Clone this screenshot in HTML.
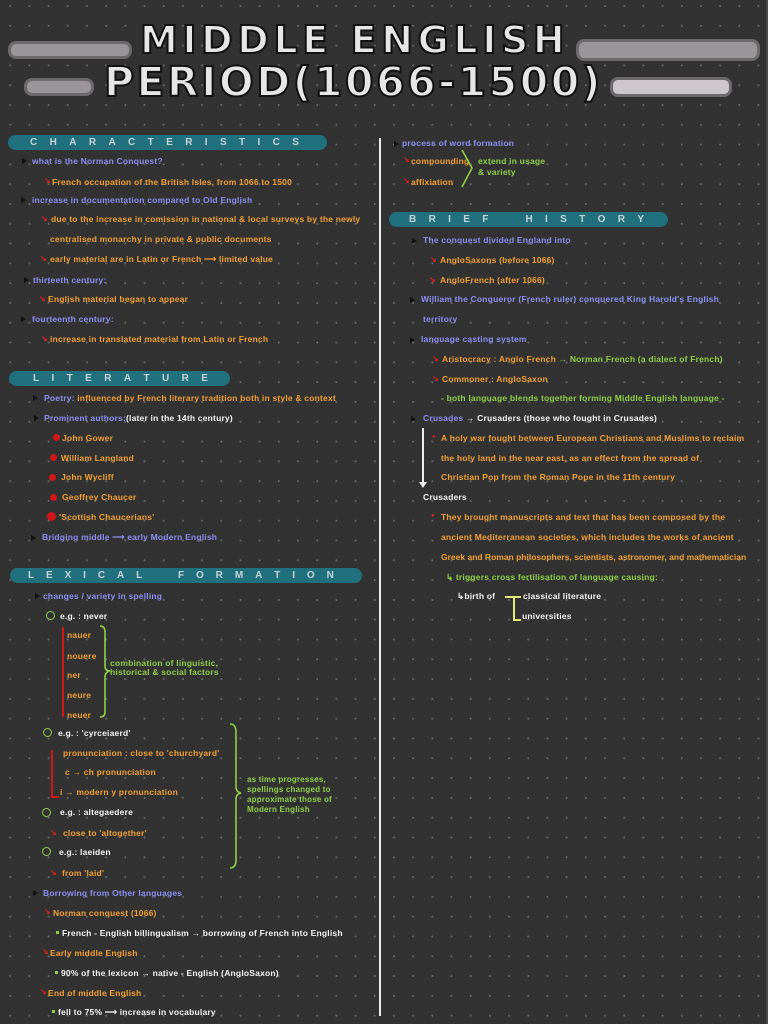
<!DOCTYPE html>
<html><head><meta charset="utf-8"><style>
html,body{margin:0;padding:0}
body{width:768px;height:1024px;position:relative;overflow:hidden;background-color:#323232;
background-image:radial-gradient(circle,#6a6a6a 0.8px,transparent 1.2px);background-size:19.2px 19.8px;background-position:0.6px -3.9px;
font-family:"Liberation Sans",sans-serif;}
.t{position:absolute;font-size:8.5px;font-weight:bold;white-space:nowrap;line-height:10px;letter-spacing:0.2px}
.b{color:#8c8ff2}.o{color:#f2a033}.g{color:#8fd046}.w{color:#f4f4f4}.y{color:#e6e87a}
.bar{position:absolute;height:15px;background:#21707e;border-radius:8px;color:#c7d3d6;font-size:10px;font-weight:bold;line-height:15px;white-space:nowrap;display:flex;justify-content:space-between;box-sizing:border-box}
.pill{position:absolute;background:#9a9599;border:3px solid #6c696b;border-radius:8px;box-sizing:border-box}
.title{position:absolute;font-family:"DejaVu Sans",sans-serif;font-weight:bold;color:#e6e6e6;-webkit-text-stroke:2px #111;font-size:38px;white-space:nowrap;line-height:40px}
.tri{position:absolute;width:0;height:0;border-left:5px solid #111;border-top:3px solid transparent;border-bottom:3px solid transparent}
.rd{position:absolute;color:#e02020;font-size:8px;font-weight:bold}
.rc{position:absolute;width:7px;height:7px;border-radius:50%;background:#d01818}
.gc{position:absolute;width:7px;height:7px;border-radius:50%;border:1.5px solid #8fd046}
.dot{position:absolute;width:3px;height:3px;background:#8fd046}
</style></head><body>
<div style="position:absolute;right:0;top:0;width:2px;height:1024px;background:#4a4a4a"></div>
<!-- title -->
<div class="pill" style="left:8px;top:41px;width:124px;height:18px"></div>
<div class="pill" style="left:576px;top:39px;width:184px;height:22px"></div>
<div class="pill" style="left:24px;top:78px;width:70px;height:18px"></div>
<div class="pill" style="left:610px;top:77px;width:122px;height:20px;background:#cdc6ca"></div>
<div class="title" style="left:140px;top:20px;letter-spacing:4.6px">MIDDLE ENGLISH</div>
<div class="title" style="left:104px;top:62px;font-size:41px;letter-spacing:2.5px">PERIOD(1066-1500)</div>
<!-- divider -->
<div style="position:absolute;left:379px;top:138px;width:2px;height:878px;background:#eee"></div>

<!-- CHARACTERISTICS -->
<div class="bar" style="left:8px;top:135px;width:319px;padding:0 28px 0 22px"><span>C</span><span>H</span><span>A</span><span>R</span><span>A</span><span>C</span><span>T</span><span>E</span><span>R</span><span>I</span><span>S</span><span>T</span><span>I</span><span>C</span><span>S</span></div>
<div class="tri" style="left:22px;top:158px"></div><div class="t b" style="left:32px;top:156px">what is the Norman Conquest?</div>
<div class="rd" style="left:44px;top:176px">↘</div><div class="t o" style="left:52px;top:177px">French occupation of the British Isles, from 1066 to 1500</div>
<div class="tri" style="left:21px;top:197px"></div><div class="t b" style="left:32px;top:195px">increase in documentation compared to Old English</div>
<div class="rd" style="left:41px;top:214px">↘</div><div class="t o" style="left:51px;top:214px">due to the increase in comission in national &amp; local surveys by the newly</div>
<div class="t o" style="left:50px;top:234px">centralised monarchy in private &amp; public documents</div>
<div class="rd" style="left:40px;top:254px">↘</div><div class="t o" style="left:50px;top:254px">early material are in Latin or French ⟶ limited value</div>
<div class="tri" style="left:24px;top:277px"></div><div class="t b" style="left:33px;top:275px">thirteeth century:</div>
<div class="rd" style="left:39px;top:294px">↘</div><div class="t o" style="left:48px;top:294px">English material began to appear</div>
<div class="tri" style="left:21px;top:316px"></div><div class="t b" style="left:32px;top:314px">fourteenth century:</div>
<div class="rd" style="left:41px;top:334px">↘</div><div class="t o" style="left:50px;top:334px">increase in translated material from Latin or French</div>

<!-- LITERATURE -->
<div class="bar" style="left:9px;top:371px;width:221px;padding:0 22px 0 24px"><span>L</span><span>I</span><span>T</span><span>E</span><span>R</span><span>A</span><span>T</span><span>U</span><span>R</span><span>E</span></div>
<div class="tri" style="left:33px;top:395px"></div><div class="t" style="left:44px;top:393px"><span class="b">Poetry:</span> <span class="o">influenced by French literary tradition both in style &amp; context</span></div>
<div class="tri" style="left:34px;top:415px"></div><div class="t" style="left:44px;top:413px"><span class="b">Prominent authors:</span><span class="w">(later in the 14th century)</span></div>
<div class="rc" style="left:53px;top:434px"></div><div class="t o" style="left:62px;top:433px">John Gower</div>
<div class="rc" style="left:50px;top:454px"></div><div class="t o" style="left:61px;top:453px">William Langland</div>
<div class="rc" style="left:49px;top:474px"></div><div class="t o" style="left:61px;top:472px">John Wycliff</div>
<div class="rc" style="left:50px;top:494px"></div><div class="t o" style="left:62px;top:492px">Geoffrey Chaucer</div>
<div class="rc" style="left:47px;top:512px;width:9px;height:9px"></div><div class="t o" style="left:59px;top:512px">'Scottish Chaucerians'</div>
<div class="tri" style="left:31px;top:535px"></div><div class="t b" style="left:42px;top:532px">Bridging middle ⟶ early Modern English</div>

<!-- LEXICAL FORMATION -->
<div class="bar" style="left:10px;top:568px;width:352px;padding:0 28px 0 18px"><span>L</span><span>E</span><span>X</span><span>I</span><span>C</span><span>A</span><span>L</span><span></span><span></span><span>F</span><span>O</span><span>R</span><span>M</span><span>A</span><span>T</span><span>I</span><span>O</span><span>N</span></div>
<div class="tri" style="left:35px;top:593px"></div><div class="t b" style="left:43px;top:591px">changes / variety in spelling</div>
<div class="gc" style="left:46px;top:611px"></div><div class="t w" style="left:60px;top:611px">e.g. : never</div>
<div style="position:absolute;left:62px;top:627px;width:2px;height:90px;background:#d01818"></div>
<div class="t o" style="left:67px;top:630px">nauer</div>
<div class="t o" style="left:67px;top:651px">nouere</div>
<div class="t o" style="left:67px;top:670px">ner</div>
<div class="t o" style="left:67px;top:690px">neure</div>
<div class="t o" style="left:67px;top:710px">neuer</div>
<svg style="position:absolute;left:98px;top:624px" width="14" height="96"><path d="M2 2 Q7 2 7 8 L7 42 Q7 47 12 47 Q7 48 7 53 L7 88 Q7 93 2 93" fill="none" stroke="#8fd046" stroke-width="1.6"/></svg>
<div class="t g" style="left:110px;top:659px;line-height:9px">combination of linguistic,<br>historical &amp; social factors</div>

<div class="gc" style="left:43px;top:728px"></div><div class="t w" style="left:58px;top:728px">e.g. : 'cyrceiaerd'</div>
<div style="position:absolute;left:51px;top:750px;width:2px;height:48px;background:#d01818"></div>
<div style="position:absolute;left:51px;top:796px;width:8px;height:2px;background:#d01818"></div>
<div class="t o" style="left:63px;top:748px">pronunciation : close to 'churchyard'</div>
<div class="t o" style="left:65px;top:767px">c → ch pronunciation</div>
<div class="t o" style="left:60px;top:787px">i → modern y pronunciation</div>
<svg style="position:absolute;left:228px;top:722px" width="16" height="150"><path d="M2 2 Q8 2 8 10 L8 65 Q8 70 13 71 Q8 72 8 77 L8 138 Q8 146 2 146" fill="none" stroke="#8fd046" stroke-width="1.6"/></svg>
<div class="t g" style="left:247px;top:775px;line-height:10px;font-size:8px">as time progresses,<br>spellings changed to<br>approximate those of<br>Modern English</div>
<div class="gc" style="left:42px;top:808px"></div><div class="t w" style="left:60px;top:807px">e.g. : altegaedere</div>
<div class="rd" style="left:50px;top:828px">↘</div><div class="t o" style="left:63px;top:828px">close to 'altogether'</div>
<div class="gc" style="left:42px;top:847px"></div><div class="t w" style="left:59px;top:847px">e.g.: laeiden</div>
<div class="rd" style="left:50px;top:868px">↘</div><div class="t o" style="left:62px;top:868px">from 'laid'</div>
<div class="tri" style="left:33px;top:890px"></div><div class="t b" style="left:43px;top:888px">Borrowing from Other languages</div>
<div class="rd" style="left:44px;top:907px">↘</div><div class="t o" style="left:53px;top:908px">Norman conquest (1066)</div>
<div class="dot" style="left:56px;top:931px"></div><div class="t w" style="left:62px;top:928px">French - English billingualism → borrowing of French into English</div>
<div class="rd" style="left:42px;top:947px">↘</div><div class="t o" style="left:50px;top:948px">Early middle English</div>
<div class="dot" style="left:55px;top:971px"></div><div class="t w" style="left:61px;top:968px">90% of the lexicon → native - English (AngloSaxon)</div>
<div class="rd" style="left:40px;top:987px">↘</div><div class="t o" style="left:48px;top:988px">End of middle English</div>
<div class="dot" style="left:52px;top:1010px"></div><div class="t w" style="left:58px;top:1007px">fell to 75% ⟶ increase in vocabulary</div>

<!-- RIGHT COLUMN -->
<div class="tri" style="left:394px;top:141px"></div><div class="t b" style="left:402px;top:138px">process of word formation</div>
<div class="rd" style="left:403px;top:155px">↘</div><div class="t o" style="left:411px;top:156px">compounding</div>
<div class="rd" style="left:403px;top:176px">↘</div><div class="t o" style="left:411px;top:177px">affixiation</div>
<svg style="position:absolute;left:460px;top:148px" width="16" height="42"><path d="M2 2 L12 20 L2 39" fill="none" stroke="#8fd046" stroke-width="1.6"/></svg>
<div class="t g" style="left:478px;top:156px;line-height:11px">extend in usage<br>&amp; variety</div>

<div class="bar" style="left:389px;top:212px;width:279px;padding:0 24px 0 20px"><span>B</span><span>R</span><span>I</span><span>E</span><span>F</span><span></span><span></span><span>H</span><span>I</span><span>S</span><span>T</span><span>O</span><span>R</span><span>Y</span></div>
<div class="tri" style="left:412px;top:238px"></div><div class="t b" style="left:423px;top:235px">The conquest divided England into</div>
<div class="rd" style="left:430px;top:255px">↘</div><div class="t o" style="left:440px;top:255px">AngloSaxons (before 1066)</div>
<div class="rd" style="left:429px;top:275px">↘</div><div class="t o" style="left:440px;top:275px">AngloFrench (after 1066)</div>
<div class="tri" style="left:410px;top:297px"></div><div class="t b" style="left:421px;top:294px">William the Conqueror (French ruler) conquered King Harold's English</div>
<div class="t b" style="left:423px;top:314px">territory</div>
<div class="tri" style="left:410px;top:337px"></div><div class="t b" style="left:421px;top:334px">language casting system</div>
<div class="rd" style="left:432px;top:354px">↘</div><div class="t" style="left:442px;top:354px"><span class="o">Aristocracy : Anglo French</span> <span class="g">→ Norman French (a dialect of French)</span></div>
<div class="rd" style="left:432px;top:374px">↘</div><div class="t o" style="left:442px;top:374px">Commoner : AngloSaxon</div>
<div class="t g" style="left:441px;top:393px">- both language blends together forming Middle English language -</div>
<div class="tri" style="left:411px;top:416px"></div><div class="t" style="left:423px;top:413px"><span class="b">Crusades</span> <span class="w">→ Crusaders (those who fought in Crusades)</span></div>
<div style="position:absolute;left:422px;top:428px;width:2px;height:56px;background:#eee"></div>
<div style="position:absolute;left:419px;top:482px;width:0;height:0;border-left:4px solid transparent;border-right:4px solid transparent;border-top:6px solid #eee"></div>
<div class="rd" style="left:432px;top:434px;font-size:6px">●</div>
<div class="t o" style="left:441px;top:433px">A holy war fought between European Christians and Muslims to reclaim</div>
<div class="t o" style="left:441px;top:453px">the holy land in the near east, as an effect from the spread of</div>
<div class="t o" style="left:441px;top:472px">Christian Pop from the Roman Pope in the 11th century</div>
<div class="t w" style="left:423px;top:492px">Crusaders</div>
<div class="rd" style="left:431px;top:513px;font-size:6px">●</div>
<div class="t o" style="left:441px;top:512px">They brought manuscripts and text that has been composed by the</div>
<div class="t o" style="left:441px;top:532px">ancient Mediterranean societies, which includes the works of ancient</div>
<div class="t o" style="left:441px;top:552px;letter-spacing:0">Greek and Roman philosophers, scientists, astronomer, and mathematician</div>
<div class="t g" style="left:446px;top:572px">↳ triggers cross fertilisation of language causing:</div>
<div class="t w" style="left:457px;top:591px">↳birth of</div>
<div style="position:absolute;left:505px;top:596px;width:16px;height:1.5px;background:#e6e87a"></div>
<div style="position:absolute;left:513px;top:596px;width:1.5px;height:24px;background:#e6e87a"></div>
<div style="position:absolute;left:513px;top:619px;width:8px;height:1.5px;background:#e6e87a"></div>
<div class="t w" style="left:523px;top:591px">classical literature</div>
<div class="t w" style="left:522px;top:611px">universities</div>
</body></html>
